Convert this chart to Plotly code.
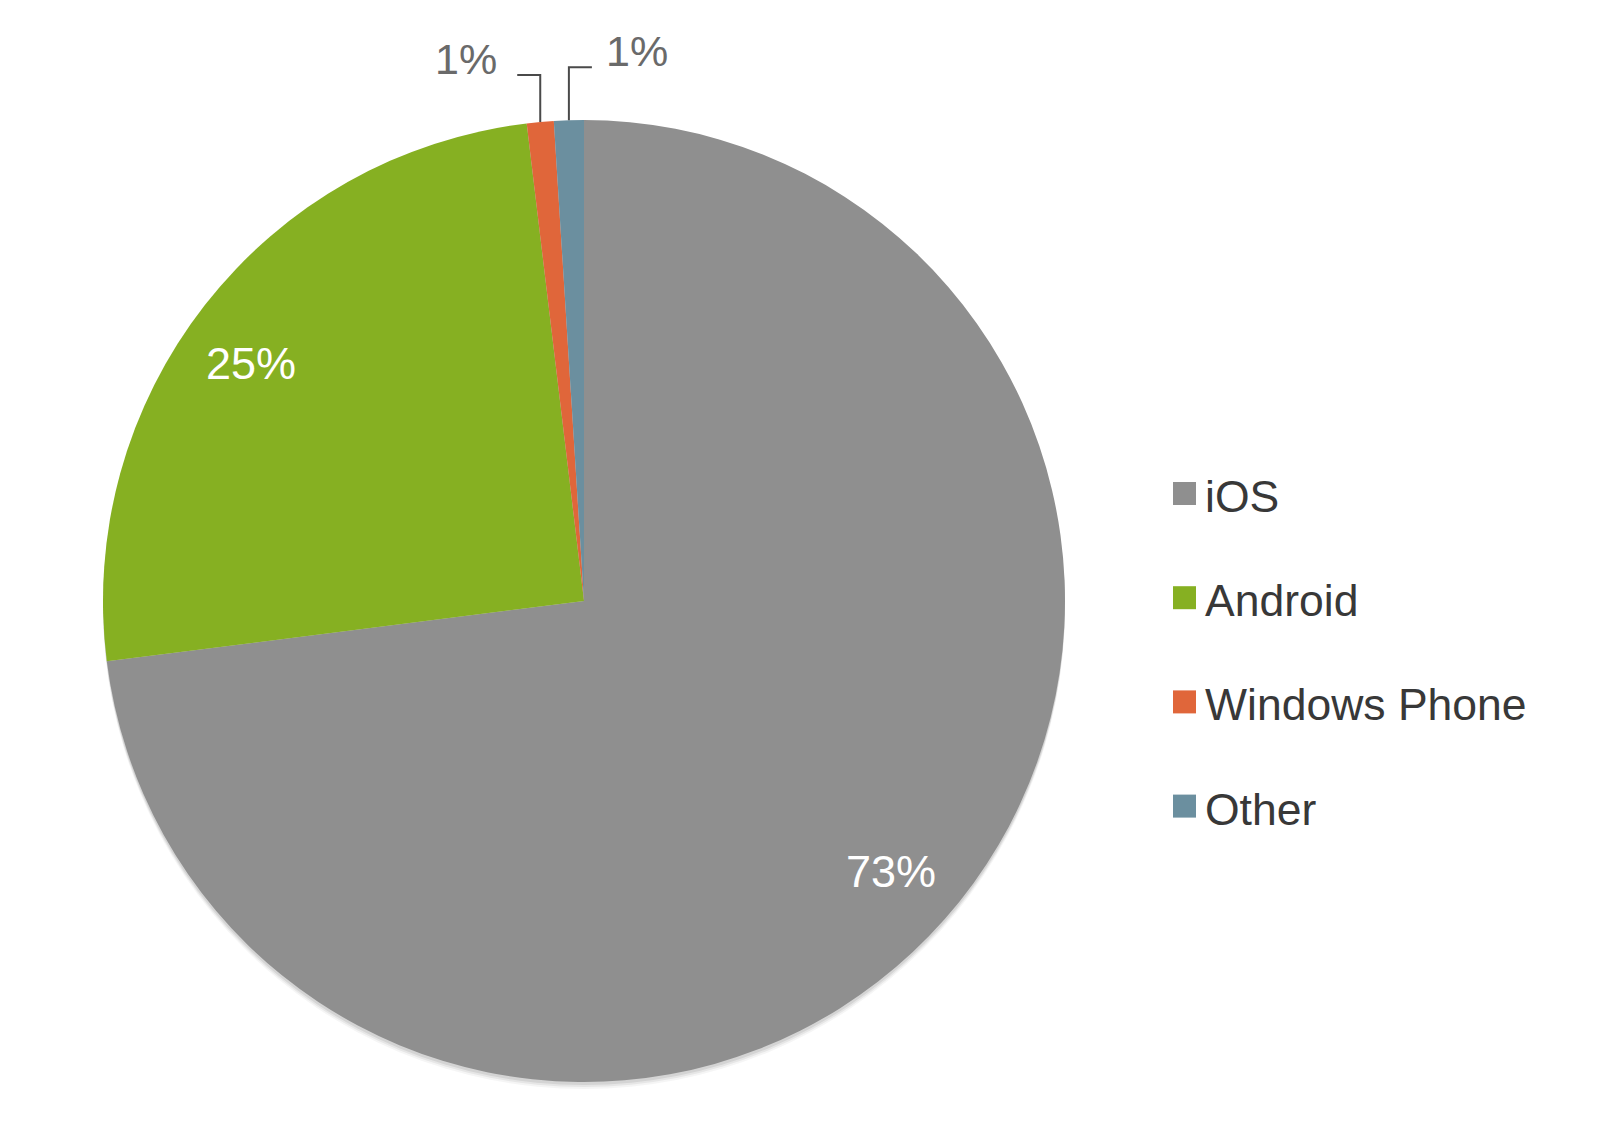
import math
import plotly.graph_objects as go

# smartphone platform share
labels = ["iOS", "Android", "Windows Phone", "Other"]
shares = [73.0, 25.1, 0.9, 1.0]
colors = ["#8f8f8f", "#86b022", "#e0663a", "#6b8f9f"]

W, H = 1600, 1132
PAGE = 8                    # default body margin of the html page
CX, CY, R = 584, 601, 481   # pie centre / radius in window pixels
FONT = "Liberation Sans, Arial, sans-serif"
label_nudge = {"Android": (-11, 14)}   # small hand tweak, like the original


def paper(x, y):
    return (x - PAGE) / W, 1 - (y - PAGE) / H


def pie_domain(dy=0):
    x0, y0 = paper(CX - R, CY + dy + R)
    x1, y1 = paper(CX + R, CY + dy - R)
    return dict(x=[x0, x1], y=[y0, y1])


fig = go.Figure()

# soft drop shadow under the pie
for dy, alpha in [(7, 0.04), (5, 0.06), (3, 0.08)]:
    fig.add_trace(go.Pie(values=[sum(shares)], labels=["shadow"],
                         marker=dict(colors=[f"rgba(0,0,0,{alpha})"]),
                         textinfo="none", hoverinfo="skip", showlegend=False,
                         domain=pie_domain(dy)))

fig.add_trace(go.Pie(
    labels=labels, values=shares, sort=False, direction="clockwise", rotation=0,
    marker=dict(colors=colors, line=dict(width=0)),
    textinfo="none", showlegend=False, domain=pie_domain(),
))

annotations = []
shapes = []
total = sum(shares)
cum = 0
small_idx = 0
leader_lift = [47, 53]
for lab, v in zip(labels, shares):
    theta = math.radians((cum + v / 2) / total * 360)
    cum += v
    txt = f"{round(v / total * 100)}%"
    if v / total > 0.05:
        nx, ny = label_nudge.get(lab, (0, 0))
        x, y = paper(CX + 0.85 * R * math.sin(theta) + nx,
                     CY - 0.85 * R * math.cos(theta) + ny)
        annotations.append(dict(x=x, y=y, xref="paper", yref="paper", text=txt,
                                xanchor="center", yanchor="middle", showarrow=False,
                                font=dict(family=FONT, size=45, color="white")))
    else:
        ex = CX + R * math.sin(theta)
        ey = CY - R * math.cos(theta)
        side = -1 if small_idx % 2 == 0 else 1
        elbow_y = ey - leader_lift[small_idx % 2]
        end_x = ex + side * 23
        pts = [paper(ex, ey), paper(ex, elbow_y), paper(end_x, elbow_y)]
        path = "M{},{} L{},{} L{},{}".format(*[c for p in pts for c in p])
        shapes.append(dict(type="path", path=path, xref="paper", yref="paper",
                           line=dict(color="#4a4a4a", width=2)))
        lx, ly = paper(end_x + side * (18 if side < 0 else 12), elbow_y - 16)
        annotations.append(dict(x=lx, y=ly, xref="paper", yref="paper", text=txt,
                                xanchor="right" if side < 0 else "left", yanchor="middle",
                                showarrow=False, font=dict(family=FONT, size=43, color="#6a6a6a")))
        small_idx += 1

# legend on the right
for i, (lab, col) in enumerate(zip(labels, colors)):
    yc = 493.5 + i * 104.2
    x0, y0 = paper(1173, yc - 11.5)
    x1, y1 = paper(1196, yc + 11.5)
    shapes.append(dict(type="rect", xref="paper", yref="paper", x0=x0, x1=x1, y0=y0, y1=y1,
                       fillcolor=col, line=dict(width=0)))
    tx, ty = paper(1203, yc + 3)
    annotations.append(dict(x=tx, y=ty, xref="paper", yref="paper", text=lab,
                            xanchor="left", yanchor="middle", showarrow=False,
                            font=dict(family=FONT, size=44.5, color="#383838")))

fig.update_layout(
    width=W, height=H,
    margin=dict(l=0, r=0, t=0, b=0),
    paper_bgcolor="white", plot_bgcolor="white",
    annotations=annotations, shapes=shapes,
)

fig.write_html("out.html")
